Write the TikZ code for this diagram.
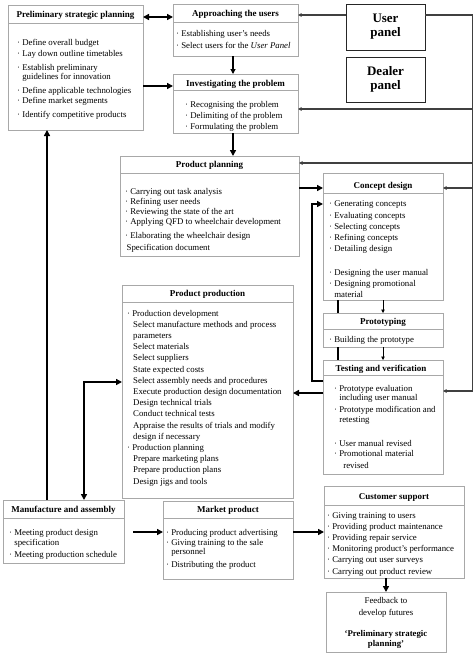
\documentclass[tikz,border=0pt]{standalone}
\usepackage{fontspec}
\setmainfont{Liberation Serif}
\usetikzlibrary{arrows.meta,calc}
\definecolor{boxgray}{HTML}{A8A8A8}
\definecolor{linegray}{HTML}{404040}
\tikzset{
 box/.style={draw=boxgray, line width=0.7pt, fill=white, inner sep=0pt, outer sep=0pt, anchor=north west},
 panel/.style={draw=black!85, line width=0.9pt, inner sep=0pt, outer sep=0pt, anchor=north west, font=\fontsize{13}{14}\selectfont\bfseries, align=center},
 sepline/.style={draw=boxgray, line width=0.7pt},
 ttl/.style={anchor=base, inner sep=0pt, font=\fontsize{9}{11}\selectfont\bfseries},
 body/.style={anchor=base west, inner sep=0pt, align=left, font=\fontsize{8.8}{11.2}\selectfont},
 big/.style={line width=1.6pt, -{Triangle[length=6pt,width=6pt]}},
 bigtwo/.style={line width=1.6pt, {Triangle[length=6pt,width=6pt]}-{Triangle[length=6pt,width=6pt]}},
 medarr/.style={line width=1.1pt, -{Triangle[length=5pt,width=5pt]}},
 smallarr/.style={line width=0.7pt, -{Triangle[length=3.5pt,width=3.5pt]}},
 thickln/.style={line width=1.6pt},
 gline/.style={draw=linegray, line width=1.1pt},
 garr/.style={draw=linegray, line width=1.1pt, -{Triangle[length=3.5pt,width=3.5pt]}},
}
\begin{document}
\begin{tikzpicture}[x=1pt,y=-1pt]
\useasboundingbox (0,0) rectangle (474,656);
% boxes
\node[box,minimum width=135pt,minimum height=125pt] (psp) at (8,5) {};
\node[box,minimum width=125pt,minimum height=52pt] (appr) at (173,4) {};
\node[panel,minimum width=79pt,minimum height=46pt] (user) at (346,4) {User\\panel};
\node[panel,minimum width=79pt,minimum height=45pt] (dealer) at (346,57) {Dealer\\panel};
\node[box,minimum width=125pt,minimum height=59pt] (inv) at (173,74) {};
\node[box,minimum width=179pt,minimum height=100pt] (pp) at (120,156) {};
\node[box,minimum width=120pt,minimum height=127pt] (cd) at (323,173) {};
\node[box,minimum width=120pt,minimum height=34pt] (proto) at (323,313) {};
\node[box,minimum width=120pt,minimum height=114pt] (tv) at (323,360) {};
\node[box,minimum width=171pt,minimum height=213pt] (prod) at (122,285) {};
\node[box,minimum width=121pt,minimum height=63pt] (ma) at (3,500) {};
\node[box,minimum width=130pt,minimum height=78pt] (mp) at (163,501) {};
\node[box,minimum width=140pt,minimum height=92pt] (cs) at (324,486) {};
\node[box,minimum width=120pt,minimum height=60pt] (fb) at (326,592) {};
% header separators
\foreach \n/\y in {psp/23, appr/22, inv/90, pp/173, cd/193, proto/329, tv/375, prod/302, ma/518, mp/518, cs/505}
  \draw[sepline] (\n.west |- 0,\y) -- (\n.east |- 0,\y);
% titles
\node[ttl] (psp-t) at (75.5,17) {Preliminary strategic planning};
\node[ttl] (appr-t) at (235.5,16) {Approaching the users};
\node[ttl] (inv-t) at (235.5,86) {Investigating the problem};
\node[ttl] (pp-t) at (209.5,167) {Product planning};
\node[ttl] (cd-t) at (383,188) {Concept design};
\node[ttl] (proto-t) at (383,324) {Prototyping};
\node[ttl] (tv-t) at (381,371) {Testing and verification};
\node[ttl] (prod-t) at (207.5,296) {Product production};
\node[ttl] (ma-t) at (63.5,512) {Manufacture and assembly};
\node[ttl] (mp-t) at (228,512) {Market product};
\node[ttl] (cs-t) at (394,499) {Customer support};
% bodies (anchored at the baseline of their last line)
\node[body,font=\fontsize{8.8}{10.5}\selectfont] (psp-b) at (17,117) {%
· Define overall budget\\[0.5pt]
· Lay down outline timetables\\[3.5pt]
· Establish preliminary\\[-1.5pt]
\phantom{· }guidelines for innovation\\[3.5pt]
· Define applicable technologies\\[-0.5pt]
· Define market segments\\[3.5pt]
· Identify competitive products};
\node[body,font=\fontsize{8.8}{10.5}\selectfont] (appr-b) at (176,48) {%
· Establishing user's needs\\[1.5pt]
· Select users for the \textit{User Panel}};
\node[body] (inv-b) at (185,129.5) {%
· Recognising the problem\\
· Delimiting of the problem\\
· Formulating the problem};
\node[body,font=\fontsize{8.8}{10}\selectfont] (pp-b) at (125,250) {%
· Carrying out task analysis\\
· Refining user needs\\
· Reviewing the state of the art\\
· Applying QFD to wheelchair development\\[4pt]
· Elaborating the wheelchair design\\[2pt]
\hspace*{1.5pt}Specification document};
\node[body] (cd-b) at (329,297) {%
· Generating concepts\\
· Evaluating concepts\\
· Selecting concepts\\
· Refining concepts\\
· Detailing design\\[12.8pt]
· Designing the user manual\\
· Designing promotional\\[-1pt]
\phantom{· }material};
\node[body] (proto-b) at (329,342) {· Building the prototype};
\node[body,font=\fontsize{8.8}{10.5}\selectfont] (tv-b) at (334,468) {%
· Prototype evaluation\\[-1.5pt]
\phantom{· }including user manual\\[1.5pt]
· Prototype modification and\\[-0.5pt]
\phantom{· }retesting\\[13.5pt]
· User manual revised\\[-0.5pt]
· Promotional material\\[1.5pt]
\phantom{· }\hspace*{4pt}revised};
\node[body] (prod-b) at (127,484) {%
· Production development\\
\hspace*{6pt}Select manufacture methods and process\\
\hspace*{6pt}parameters\\
\hspace*{6pt}Select materials\\
\hspace*{6pt}Select suppliers\\
\hspace*{6pt}State expected costs\\
\hspace*{6pt}Select assembly needs and procedures\\
\hspace*{6pt}Execute production design documentation\\
\hspace*{6pt}Design technical trials\\
\hspace*{6pt}Conduct technical tests\\
\hspace*{6pt}Appraise the results of trials and modify\\
\hspace*{6pt}design if necessary\\
· Production planning\\
\hspace*{6pt}Prepare marketing plans\\
\hspace*{6pt}Prepare production plans\\
\hspace*{6pt}Design jigs and tools};
\node[body,font=\fontsize{8.8}{10}\selectfont] (ma-b) at (9,557) {%
· Meeting product design\\
\phantom{· }specification\\[2pt]
· Meeting production schedule};
\node[body,font=\fontsize{8.8}{10}\selectfont] (mp-b) at (166,567) {%
· Producing product advertising\\
· Giving training to the sale\\[-1pt]
\phantom{· }personnel\\[3pt]
· Distributing the product};
\node[body] (cs-b) at (327,574) {%
· Giving training to users\\
· Providing product maintenance\\
· Providing repair service\\
· Monitoring product's performance\\
· Carrying out user surveys\\
· Carrying out product review};
\node[anchor=base, inner sep=0pt, align=center, font=\fontsize{8.8}{11}\selectfont] (fb-b) at (386,646) {%
Feedback to\\[1pt]
develop futures\\[10pt]
\textbf{`Preliminary strategic}\\[-1pt]
\textbf{planning'}};
% right-hand feedback lines
\coordinate (rTop) at (472.5,15);
\coordinate (rBot) at (472.5,391);
\coordinate (r1) at (472.5,109);
\coordinate (r2) at (472.5,163);
\coordinate (r3) at (472.5,188);
\draw[gline] (user.east |- rTop) -- (rTop) -- (rBot);
\draw[garr] (user.west |- rTop) -- (appr.east |- rTop);
\draw[garr] (r1) -- (inv.east |- r1);
\draw[garr] (r2) -- (pp.east |- r2);
\draw[garr] (r3) -- (cd.east |- r3);
\draw[garr] (rBot) -- (tv.east |- rBot);
% main flow
\coordinate (a1) at (0,17);
\draw[bigtwo] (psp.east |- a1) -- (appr.west |- a1);
\coordinate (a2) at (233,0);
\draw[medarr] (appr.south -| a2) -- (inv.north -| a2);
\coordinate (a3) at (0,86);
\draw[big] (psp.east |- a3) -- (inv.west |- a3);
\draw[big] (inv.south -| a2) -- (pp.north -| a2);
\coordinate (a4) at (0,188);
\draw[big] (pp.east |- a4) -- (cd.west |- a4);
\draw[smallarr] (cd.south) -- (proto.north);
\draw[smallarr] (proto.south) -- (tv.north);
\coordinate (a5) at (338,0);
\draw[thickln] (cd.south -| a5) -- (proto.north -| a5);
\draw[thickln] (proto.south -| a5) -- (tv.north -| a5);
\coordinate (l1) at (312,381);
\coordinate (l2) at (312,204);
\draw[big] (tv.west |- l1) -- (l1) -- (l2) -- (cd.west |- l2);
\coordinate (a6) at (0,393);
\draw[big] (tv.west |- a6) -- (prod.east |- a6);
\coordinate (a7) at (84,382);
\draw[bigtwo] (prod.west |- a7) -- (a7) -- (ma.north -| a7);
\coordinate (a8) at (47,0);
\draw[big] (ma.north -| a8) -- (psp.south -| a8);
\coordinate (a9) at (0,532);
\draw[big, shorten <=9pt] (ma.east |- a9) -- (mp.west |- a9);
\draw[big] (mp.east |- a9) -- (cs.west |- a9);
\draw[big] (cs.south -| fb.north) -- (fb.north);
\end{tikzpicture}
\end{document}
